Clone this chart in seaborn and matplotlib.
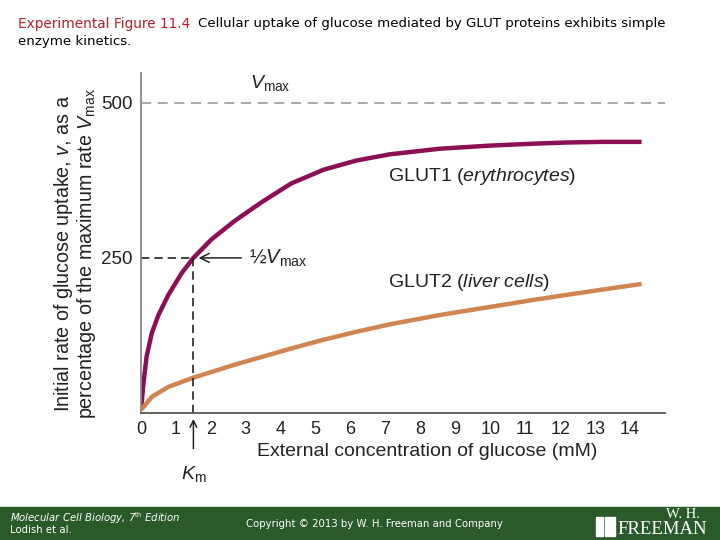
import numpy as np
import pandas as pd
import matplotlib
matplotlib.use("Agg")
import matplotlib.pyplot as plt
from matplotlib.patches import Rectangle
import seaborn as sns

sns.set_style("white")
plt.rcParams['font.family'] = ['Liberation Sans', 'DejaVu Sans']
plt.rcParams['mathtext.fontset'] = 'custom'
plt.rcParams['mathtext.rm'] = 'Liberation Sans'
plt.rcParams['mathtext.it'] = 'Liberation Sans:italic'

# values (glucose in mM, uptake in % of Vmax scale)
conc_glut1 = [0, 0.07, 0.16, 0.31, 0.5, 0.78, 1.17, 1.5, 2.02, 2.69, 3.46, 4.3,
              5.22, 6.17, 7.13, 8.56, 10.0, 11.2, 12.2, 13.2, 14.33]
rate_glut1 = [5, 48, 91, 129, 158, 190, 226, 250, 280, 310, 340, 370,
              392, 407, 417, 426, 431, 434, 436, 437, 437]
conc_glut2 = [0, 0.31, 0.78, 1.5, 2.69, 4.3, 5.22, 6.17, 7.13, 8.56, 10.0, 11.2, 12.2, 13.1, 14.33]
rate_glut2 = [5, 26, 42, 57, 78, 104, 118, 131, 143, 158, 171, 182, 190.5, 198, 208]
vmax = 500
half_vmax = 250
km = 1.5
x_ticks = list(range(0, 15))
y_ticks = [250, 500]

purple = '#8c0f55'
orange = '#d08550'

fig = plt.figure(figsize=(7.2, 5.4), dpi=100)
ax = fig.add_axes([141/720, 1-413/540, 524/720, 340/540])

sns.lineplot(x=conc_glut1, y=rate_glut1, ax=ax, color=purple, lw=3.2, solid_capstyle='butt')
sns.lineplot(x=conc_glut2, y=rate_glut2, ax=ax, color=orange, lw=3.2, solid_capstyle='butt')

ax.axhline(vmax, color='#999999', lw=1.2, ls=(0, (6, 4)), zorder=0)
ax.plot([0, km], [half_vmax, half_vmax], color='#222222', lw=1.2, ls=(0, (5, 3)))
ax.plot([km, km], [half_vmax, 0], color='#222222', lw=1.2, ls=(0, (5, 3)))

ax.set_xlim(0, 15)
ax.set_ylim(0, 548)
ax.set_xticks(x_ticks)
ax.set_xticklabels([str(t) for t in x_ticks])
ax.set_yticks(y_ticks)
ax.set_yticklabels([str(t) for t in y_ticks])
ax.tick_params(axis='x', direction='in', length=14, width=1.2, color='#777777',
               labelsize=13, labelcolor='#222222', pad=6)
ax.tick_params(axis='y', length=0, labelsize=13.5, labelcolor='#222222', pad=6)
for s in ['top', 'right']:
    ax.spines[s].set_visible(False)
ax.spines['left'].set_color('#888888')
ax.spines['left'].set_linewidth(1.3)
ax.spines['bottom'].set_color('#555555')
ax.spines['bottom'].set_linewidth(1.3)

ax.set_xlabel('External concentration of glucose (mM)', fontsize=14, color='#222222',
              labelpad=3, x=0.546)
ax.set_ylabel('Initial rate of glucose uptake, $v$, as a\npercentage of the maximum rate $V_{\\mathrm{max}}$',
              fontsize=14.2, color='#222222', labelpad=2, linespacing=1.0, y=0.468)

# annotations
ax.text(3.69, 515, '$V_{\\mathrm{max}}$', fontsize=14, ha='center', va='bottom', color='#222222')
ax.annotate('', xy=(km + 0.07, half_vmax), xytext=(km + 1.45, half_vmax),
            arrowprops=dict(arrowstyle='->', color='#222222', lw=1.1, mutation_scale=16))
ax.text(km + 1.6, half_vmax, '½$V_{\\mathrm{max}}$', fontsize=14.5, ha='left', va='center', color='#222222')
ax.annotate('', xy=(km, -5), xytext=(km, -62), annotation_clip=False,
            arrowprops=dict(arrowstyle='->', color='#222222', lw=1.1, mutation_scale=12))
ax.text(km, -82, '$K_{\\mathrm{m}}$', fontsize=14, ha='center', va='top', color='#222222')
ax.text(7.07, 381, 'GLUT1 ($\\mathit{erythrocytes}$)', fontsize=14, ha='left', va='center', color='#222222')
ax.text(7.07, 211, 'GLUT2 ($\\mathit{liver\\ cells}$)', fontsize=14, ha='left', va='center', color='#222222')

# slide title
fig.text(18/720, 1-24/540, 'Experimental Figure 11.4', family='DejaVu Sans', fontsize=9.8,
         color='#b5202a', va='center', ha='left')
fig.text(198/720, 1-24/540, 'Cellular uptake of glucose mediated by GLUT proteins exhibits simple',
         family='DejaVu Sans', fontsize=9.6, color='black', va='center', ha='left')
fig.text(18/720, 1-42/540, 'enzyme kinetics.', family='DejaVu Sans', fontsize=9.6,
         color='black', va='center', ha='left')

# footer band
fig.patches.append(Rectangle((0, 0), 1, 33/540, transform=fig.transFigure,
                             color='#2a5a2a', zorder=0))
fig.text(10/720, 1-518/540, 'Molecular Cell Biology, 7$^{\\mathrm{th}}$ Edition', family='DejaVu Sans',
         style='italic', fontsize=7.3, color='white', va='center')
fig.text(10/720, 1-530/540, 'Lodish et al.', family='DejaVu Sans', fontsize=7.3, color='white', va='center')
fig.text(246/720, 1-524/540, 'Copyright © 2013 by W. H. Freeman and Company', family='DejaVu Sans',
         fontsize=7.3, color='white', va='center')
fig.patches.append(Rectangle((596/720, 1-536/540), 7/720, 19/540, transform=fig.transFigure,
                             color='white', zorder=1))
fig.patches.append(Rectangle((605/720, 1-526/540), 10/720, 9/540, transform=fig.transFigure,
                             color='white', zorder=1))
fig.patches.append(Rectangle((605/720, 1-536/540), 10/720, 9/540, transform=fig.transFigure,
                             color='white', zorder=1))
fig.text(700/720, 1-515/540, 'W. H.', family='Liberation Serif', fontsize=10.5, color='white',
         va='center', ha='right')
fig.text(617/720, 1-529/540, 'FREEMAN', family='Liberation Serif', fontsize=13.5, color='white',
         va='center', ha='left')

fig.savefig('out.png', dpi=100)
